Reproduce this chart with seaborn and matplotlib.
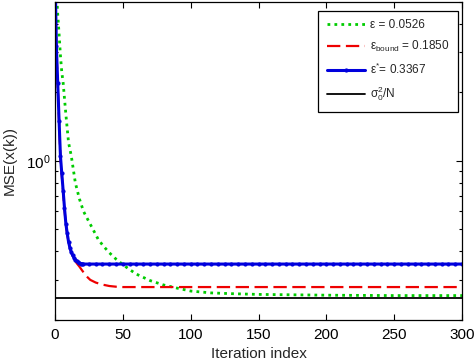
import matplotlib
matplotlib.use("Agg")
import matplotlib.pyplot as plt
import pandas as pd
import seaborn as sns
from matplotlib.ticker import LogLocator, NullFormatter

# --- values ---
iter_green = [0, 1, 2, 3, 4, 5, 6, 8, 10, 12, 15, 18, 21, 25, 28, 32, 36, 40, 45,
              50, 55, 60, 70, 80, 90, 100, 115, 130, 150, 200, 250, 300]
mse_green = [8.0, 5.6, 4.4, 3.6, 2.9, 2.45, 2.2, 1.6, 1.2, 1.05, 0.80, 0.68, 0.60, 0.54,
             0.50, 0.45, 0.42, 0.395, 0.37, 0.35, 0.333, 0.318, 0.298, 0.285, 0.276,
             0.268, 0.263, 0.261, 0.259, 0.257, 0.256, 0.256]

iter_red = [0, 1, 2, 3, 4, 5, 6, 7, 8, 9, 10, 11, 12, 13, 14, 16, 18, 20, 22, 24, 26,
            30, 35, 40, 45, 50, 300]
mse_red = [6.8, 3.1, 2.15, 1.47, 1.03, 0.86, 0.73, 0.61, 0.525, 0.475, 0.44, 0.415,
           0.397, 0.383, 0.37, 0.355, 0.343, 0.33, 0.318, 0.308, 0.30, 0.292, 0.286,
           0.282, 0.280, 0.279, 0.279]

iter_blue = [0, 1, 2, 3, 4, 5, 6, 7, 8, 9, 10, 11, 12, 13, 14, 15, 16, 17, 18, 19, 20,
             21, 25, 30, 35, 40, 45, 50, 55, 60, 65, 70, 75, 80, 85, 90, 95, 100, 105,
             110, 115, 120, 125, 130, 135, 140, 145, 150, 155, 160, 165, 170, 175, 180,
             185, 190, 195, 200, 205, 210, 215, 220, 225, 230, 235, 240, 245, 250, 255,
             260, 265, 270, 275, 280, 285, 290, 295, 300]
mse_blue = [7.0, 3.2, 2.2, 1.5, 1.05, 0.88, 0.74, 0.62, 0.53, 0.48, 0.44, 0.415, 0.397,
            0.385, 0.375, 0.368, 0.363, 0.359, 0.356, 0.354, 0.353, 0.352, 0.352, 0.352,
            0.352, 0.352, 0.352, 0.352, 0.352, 0.352, 0.352, 0.352, 0.352, 0.352, 0.352,
            0.352, 0.352, 0.352, 0.352, 0.352, 0.352, 0.352, 0.352, 0.352, 0.352, 0.352,
            0.352, 0.352, 0.352, 0.352, 0.352, 0.352, 0.352, 0.352, 0.352, 0.352, 0.352,
            0.352, 0.352, 0.352, 0.352, 0.352, 0.352, 0.352, 0.352, 0.352, 0.352, 0.352,
            0.352, 0.352, 0.352, 0.352, 0.352, 0.352, 0.352, 0.352, 0.352, 0.352]

iter_bound = [0, 300]
mse_bound = [0.25, 0.25]

labels = ["ε = 0.0526", r"ε$_{\mathrm{bound}}$ = 0.1850", r"ε$^{*}$= 0.3367", r"σ$_0^2$/N"]
x_ticks = [0, 50, 100, 150, 200, 250, 300]

sns.set_style("ticks")
plt.rcParams["font.family"] = ["Liberation Sans", "DejaVu Sans"]
plt.rcParams["mathtext.fontset"] = "custom"
plt.rcParams["mathtext.rm"] = "Liberation Sans"
plt.rcParams["mathtext.it"] = "Liberation Sans:italic"
plt.rcParams["mathtext.default"] = "regular"

fig = plt.figure(figsize=(4.74, 3.63), dpi=100)
ax = fig.add_axes([55 / 474, 43 / 363, 407 / 474, 318.5 / 363])

df_g = pd.DataFrame({"k": iter_green, "mse": mse_green})
df_r = pd.DataFrame({"k": iter_red, "mse": mse_red})
df_b = pd.DataFrame({"k": iter_blue, "mse": mse_blue})
df_k = pd.DataFrame({"k": iter_bound, "mse": mse_bound})

sns.lineplot(data=df_g, x="k", y="mse", ax=ax, color="#00cc00", linestyle=(0, (1, 1.5)),
             linewidth=2.0, label=labels[0])
sns.lineplot(data=df_r, x="k", y="mse", ax=ax, color="#ee0000", linestyle=(0, (6, 2.5)),
             linewidth=1.6, label=labels[1])
sns.lineplot(data=df_b, x="k", y="mse", ax=ax, color="#0000dd", linestyle="-",
             linewidth=2.2, marker=".", markersize=4.5, markeredgecolor="#0000dd",
             label=labels[2])
sns.lineplot(data=df_k, x="k", y="mse", ax=ax, color="black", linestyle="-",
             linewidth=1.3, label=labels[3])

ax.set_yscale("log")
ax.set_xlim(0, 300)
ax.set_ylim(0.2, 5)
ax.set_xticks(x_ticks)
ax.yaxis.set_major_locator(LogLocator(base=10))
ax.yaxis.set_minor_locator(LogLocator(base=10, subs=[2, 3, 4, 5, 6, 7, 8, 9]))
ax.yaxis.set_minor_formatter(NullFormatter())
ax.tick_params(which="both", direction="in", top=True, right=True, labelsize=11,
               width=0.8, color="black", labelcolor="black")
ax.tick_params(axis="x", pad=6)
ax.tick_params(which="major", length=4.5)
ax.tick_params(which="minor", length=2.5)
for s in ax.spines.values():
    s.set_color("black")
    s.set_linewidth(0.9)

ax.set_xlabel("Iteration index", fontsize=11, labelpad=3)
ax.set_ylabel("MSE(x(k))", fontsize=11, labelpad=6)

leg = ax.legend(loc="upper right", bbox_to_anchor=((458 - 55) / 407, 1 - 9 / 318.5),
                borderaxespad=0, fontsize=8.5, frameon=True, fancybox=False,
                edgecolor="black", framealpha=1, handlelength=3.2, labelspacing=0.65,
                handletextpad=0.4, borderpad=0.75)
leg.get_frame().set_linewidth(0.9)

fig.savefig("out.png", dpi=100)
